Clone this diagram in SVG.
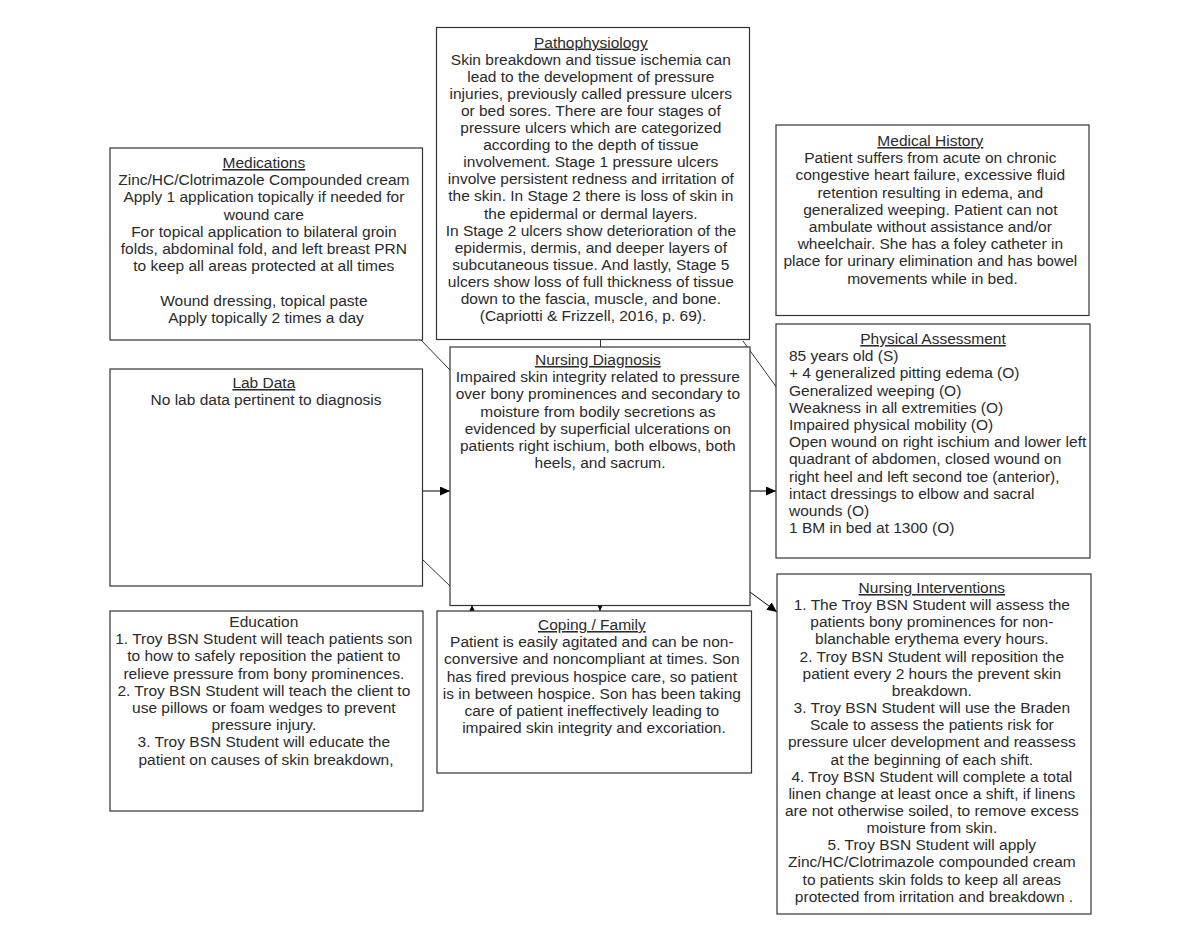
<svg xmlns="http://www.w3.org/2000/svg" width="1200" height="927" viewBox="0 0 1200 927">
<defs>
<marker id="arr" markerUnits="userSpaceOnUse" markerWidth="10" markerHeight="9" viewBox="0 0 10 9" refX="10" refY="4.5" orient="auto">
<path d="M0,0 L10,4.5 L0,9 Z" fill="#000"/>
</marker>
<style>
.box{fill:#fff;stroke:#333;stroke-width:1.2}
.t{font-family:"Liberation Sans",Arial,sans-serif;font-size:15.5px;fill:#2a2a2a;text-anchor:middle}
.l{text-anchor:start}
.u{text-decoration:underline}
.c{stroke:#333;stroke-width:1;fill:none}
.a{stroke:#000;stroke-width:1;fill:none;marker-end:url(#arr)}
</style>
</defs>
<rect width="1200" height="927" fill="#fff"/>

<g id="connectors">
<line class="c" x1="600.5" y1="340" x2="600.5" y2="347"/>
<line class="c" x1="419" y1="338" x2="450" y2="370"/>
<line class="c" x1="743" y1="341" x2="777" y2="388"/>
<line class="c" x1="422" y1="559" x2="450" y2="586"/>
<line class="a" x1="422" y1="491" x2="450" y2="491"/>
<line class="a" x1="750" y1="491" x2="776" y2="491"/>
<line class="a" x1="750" y1="592" x2="777" y2="612"/>
<line class="a" x1="472" y1="616" x2="472" y2="605"/>
<line class="a" x1="600" y1="600" x2="600" y2="611"/>
</g>

<g id="pathophysiology">
<rect class="box" x="436.5" y="27.5" width="313" height="312"/>
<text class="t" x="593" y="47.5"><tspan class="u">Pathophysiology</tspan>
<tspan x="593" dy="17.1">Skin breakdown and tissue ischemia can</tspan>
<tspan x="593" dy="17.1">lead to the development of pressure</tspan>
<tspan x="593" dy="17.1">injuries, previously called pressure ulcers</tspan>
<tspan x="593" dy="17.1">or bed sores. There are four stages of</tspan>
<tspan x="593" dy="17.1">pressure ulcers which are categorized</tspan>
<tspan x="593" dy="17.1">according to the depth of tissue</tspan>
<tspan x="593" dy="17.1">involvement. Stage 1 pressure ulcers</tspan>
<tspan x="593" dy="17.1">involve persistent redness and irritation of</tspan>
<tspan x="593" dy="17.1">the skin. In Stage 2 there is loss of skin in</tspan>
<tspan x="593" dy="17.1">the epidermal or dermal layers.</tspan>
<tspan x="593" dy="17.1">In Stage 2 ulcers show deterioration of the</tspan>
<tspan x="593" dy="17.1">epidermis, dermis, and deeper layers of</tspan>
<tspan x="593" dy="17.1">subcutaneous tissue. And lastly, Stage 5</tspan>
<tspan x="593" dy="17.1">ulcers show loss of full thickness of tissue</tspan>
<tspan x="593" dy="17.1">down to the fascia, muscle, and bone.</tspan>
<tspan x="593" dy="17.1">(Capriotti &amp; Frizzell, 2016, p. 69).</tspan></text>
</g>

<g id="medications">
<rect class="box" x="110" y="148" width="312.5" height="192"/>
<text class="t" x="266" y="168"><tspan class="u">Medications</tspan>
<tspan x="266" dy="17.2">Zinc/HC/Clotrimazole Compounded cream</tspan>
<tspan x="266" dy="17.2">Apply 1 application topically if needed for</tspan>
<tspan x="266" dy="17.2">wound care</tspan>
<tspan x="266" dy="17.2">For topical application to bilateral groin</tspan>
<tspan x="266" dy="17.2">folds, abdominal fold, and left breast PRN</tspan>
<tspan x="266" dy="17.2">to keep all areas protected at all times</tspan>
<tspan x="266" dy="34.4">Wound dressing, topical paste</tspan>
<tspan x="266" dy="17.2">Apply topically 2 times a day</tspan></text>
</g>

<g id="medical-history">
<rect class="box" x="776" y="125" width="313" height="190.5"/>
<text class="t" x="932.5" y="146"><tspan class="u">Medical History</tspan>
<tspan x="932.5" dy="17.2">Patient suffers from acute on chronic</tspan>
<tspan x="932.5" dy="17.2">congestive heart failure, excessive fluid</tspan>
<tspan x="932.5" dy="17.2">retention resulting in edema, and</tspan>
<tspan x="932.5" dy="17.2">generalized weeping. Patient can not</tspan>
<tspan x="932.5" dy="17.2">ambulate without assistance and/or</tspan>
<tspan x="932.5" dy="17.2">wheelchair. She has a foley catheter in</tspan>
<tspan x="932.5" dy="17.2">place for urinary elimination and has bowel</tspan>
<tspan x="932.5" dy="17.2">movements while in bed.</tspan></text>
</g>

<g id="physical-assessment">
<rect class="box" x="776" y="324" width="314" height="234"/>
<text class="t u" x="933" y="344">Physical Assessment</text>
<text class="t l" x="789" y="361.2"><tspan x="789">85 years old (S)</tspan>
<tspan x="789" dy="17.2">+ 4 generalized pitting edema (O)</tspan>
<tspan x="789" dy="17.2">Generalized weeping (O)</tspan>
<tspan x="789" dy="17.2">Weakness in all extremities (O)</tspan>
<tspan x="789" dy="17.2">Impaired physical mobility (O)</tspan>
<tspan x="789" dy="17.2">Open wound on right ischium and lower left</tspan>
<tspan x="789" dy="17.2">quadrant of abdomen, closed wound on</tspan>
<tspan x="789" dy="17.2">right heel and left second toe (anterior),</tspan>
<tspan x="789" dy="17.2">intact dressings to elbow and sacral</tspan>
<tspan x="789" dy="17.2">wounds (O)</tspan>
<tspan x="789" dy="17.2">1 BM in bed at 1300 (O)</tspan></text>
</g>

<g id="nursing-diagnosis">
<rect class="box" x="450" y="347" width="300" height="258.5"/>
<text class="t" x="600" y="365"><tspan class="u">Nursing Diagnosis</tspan>
<tspan x="600" dy="17.2">Impaired skin integrity related to pressure</tspan>
<tspan x="600" dy="17.2">over bony prominences and secondary to</tspan>
<tspan x="600" dy="17.2">moisture from bodily secretions as</tspan>
<tspan x="600" dy="17.2">evidenced by superficial ulcerations on</tspan>
<tspan x="600" dy="17.2">patients right ischium, both elbows, both</tspan>
<tspan x="600" dy="17.2">heels, and sacrum.</tspan></text>
</g>

<g id="lab-data">
<rect class="box" x="110" y="369" width="312.5" height="217"/>
<text class="t" x="266" y="388"><tspan class="u">Lab Data</tspan>
<tspan x="266" dy="17.2">No lab data pertinent to diagnosis</tspan></text>
</g>

<g id="education">
<rect class="box" x="110" y="611" width="313" height="200"/>
<text class="t" x="266" y="627"><tspan>Education</tspan>
<tspan x="266" dy="17.2">1. Troy BSN Student will teach patients son</tspan>
<tspan x="266" dy="17.2">to how to safely reposition the patient to</tspan>
<tspan x="266" dy="17.2">relieve pressure from bony prominences.</tspan>
<tspan x="266" dy="17.2">2. Troy BSN Student will teach the client to</tspan>
<tspan x="266" dy="17.2">use pillows or foam wedges to prevent</tspan>
<tspan x="266" dy="17.2">pressure injury.</tspan>
<tspan x="266" dy="17.2">3. Troy BSN Student will educate the</tspan>
<tspan x="266" dy="17.2">patient on causes of skin breakdown,</tspan></text>
</g>

<g id="coping-family">
<rect class="box" x="437" y="611" width="314.5" height="162"/>
<text class="t" x="594" y="630"><tspan class="u">Coping / Family</tspan>
<tspan x="594" dy="17.2">Patient is easily agitated and can be non-</tspan>
<tspan x="594" dy="17.2">conversive and noncompliant at times. Son</tspan>
<tspan x="594" dy="17.2">has fired previous hospice care, so patient</tspan>
<tspan x="594" dy="17.2">is in between hospice. Son has been taking</tspan>
<tspan x="594" dy="17.2">care of patient ineffectively leading to</tspan>
<tspan x="594" dy="17.2">impaired skin integrity and excoriation.</tspan></text>
</g>

<g id="nursing-interventions">
<rect class="box" x="777" y="574" width="314" height="340"/>
<text class="t" x="934" y="593"><tspan class="u">Nursing Interventions</tspan>
<tspan x="934" dy="17.15">1. The Troy BSN Student will assess the</tspan>
<tspan x="934" dy="17.15">patients bony prominences for non-</tspan>
<tspan x="934" dy="17.15">blanchable erythema every hours.</tspan>
<tspan x="934" dy="17.15">2. Troy BSN Student will reposition the</tspan>
<tspan x="934" dy="17.15">patient every 2 hours the prevent skin</tspan>
<tspan x="934" dy="17.15">breakdown.</tspan>
<tspan x="934" dy="17.15">3. Troy BSN Student will use the Braden</tspan>
<tspan x="934" dy="17.15">Scale to assess the patients risk for</tspan>
<tspan x="934" dy="17.15">pressure ulcer development and reassess</tspan>
<tspan x="934" dy="17.15">at the beginning of each shift.</tspan>
<tspan x="934" dy="17.15">4. Troy BSN Student will complete a total</tspan>
<tspan x="934" dy="17.15">linen change at least once a shift, if linens</tspan>
<tspan x="934" dy="17.15">are not otherwise soiled, to remove excess</tspan>
<tspan x="934" dy="17.15">moisture from skin.</tspan>
<tspan x="934" dy="17.15">5. Troy BSN Student will apply</tspan>
<tspan x="934" dy="17.15">Zinc/HC/Clotrimazole compounded cream</tspan>
<tspan x="934" dy="17.15">to patients skin folds to keep all areas</tspan>
<tspan x="934" dy="17.15">protected from irritation and breakdown .</tspan></text>
</g>
</svg>
